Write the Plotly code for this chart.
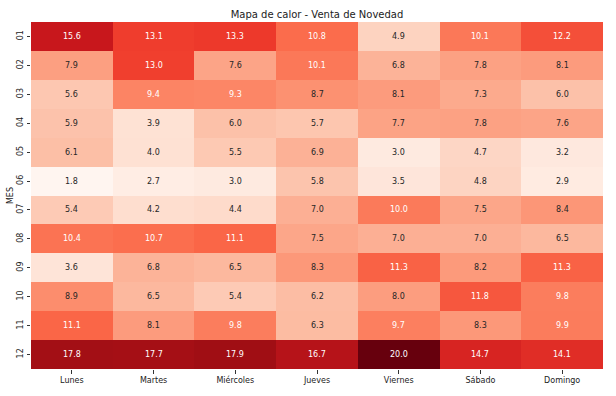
import plotly.graph_objects as go

dias = ["Lunes", "Martes", "Miércoles", "Jueves", "Viernes", "Sábado", "Domingo"]
meses = ["01", "02", "03", "04", "05", "06", "07", "08", "09", "10", "11", "12"]

lunes     = [15.6, 7.9, 5.6, 5.9, 6.1, 1.8, 5.4, 10.4, 3.6, 8.9, 11.1, 17.8]
martes    = [13.1, 13.0, 9.4, 3.9, 4.0, 2.7, 4.2, 10.7, 6.8, 6.5, 8.1, 17.7]
miercoles = [13.3, 7.6, 9.3, 6.0, 5.5, 3.0, 4.4, 11.1, 6.5, 5.4, 9.8, 17.9]
jueves    = [10.8, 10.1, 8.7, 5.7, 6.9, 5.8, 7.0, 7.5, 8.3, 6.2, 6.3, 16.7]
viernes   = [4.9, 6.8, 8.1, 7.7, 3.0, 3.5, 10.0, 7.0, 11.3, 8.0, 9.7, 20.0]
sabado    = [10.1, 7.8, 7.3, 7.8, 4.7, 4.8, 7.5, 7.0, 8.2, 11.8, 8.3, 14.7]
domingo   = [12.2, 8.1, 6.0, 7.6, 3.2, 2.9, 8.4, 6.5, 11.3, 9.8, 9.9, 14.1]

columnas = [lunes, martes, miercoles, jueves, viernes, sabado, domingo]
z = [[col[i] for col in columnas] for i in range(len(meses))]

reds = [(255, 245, 240), (254, 224, 210), (252, 187, 161), (252, 146, 114),
        (251, 106, 74), (239, 59, 44), (203, 24, 29), (165, 15, 21), (103, 0, 13)]
n = len(reds) - 1
colorscale = [[i / n, "rgb(%d,%d,%d)" % c] for i, c in enumerate(reds)]

zmin = min(min(r) for r in z)
zmax = max(max(r) for r in z)


def color_at(v):
    t = (v - zmin) / (zmax - zmin)
    t = max(0.0, min(1.0, t))
    pos = t * n
    i = min(int(pos), n - 1)
    f = pos - i
    a, b = reds[i], reds[i + 1]
    return tuple(a[k] + (b[k] - a[k]) * f for k in range(3))


def luminance(rgb):
    vals = []
    for c in rgb:
        c = c / 255.0
        vals.append(c / 12.92 if c <= 0.03928 else ((c + 0.055) / 1.055) ** 2.4)
    return 0.2126 * vals[0] + 0.7152 * vals[1] + 0.0722 * vals[2]


fig = go.Figure(go.Heatmap(
    z=z, x=dias, y=meses, colorscale=colorscale,
    zmin=zmin, zmax=zmax, showscale=False, hoverongaps=False,
))

annotations = []
for i, m in enumerate(meses):
    for j, d in enumerate(dias):
        v = z[i][j]
        col = "#262626" if luminance(color_at(v)) > 0.408 else "#ffffff"
        annotations.append(dict(
            x=j, y=i, text="%.1f" % v, showarrow=False,
            font=dict(family="DejaVu Sans", size=8, color=col),
        ))

fig.update_layout(
    width=616, height=396,
    margin=dict(l=31, r=13, t=22, b=27, autoexpand=False),
    paper_bgcolor="white", plot_bgcolor="white",
    font=dict(family="DejaVu Sans", size=8, color="#222222"),
    title=dict(text="Mapa de calor - Venta de Novedad", x=(31 + 603) / 2 / 616,
               xanchor="center", y=1 - 14 / 396, yanchor="middle",
               font=dict(size=10, color="#222222")),
    annotations=annotations,
)
fig.update_xaxes(type="category", ticks="outside", ticklen=3.5, tickcolor="#333",
                 showgrid=False, zeroline=False, showline=False, tickfont=dict(size=8),
                 automargin=False)
fig.update_yaxes(type="category", autorange="reversed", ticks="outside", ticklen=3.5,
                 tickcolor="#333", showgrid=False, zeroline=False, showline=False,
                 tickangle=-90, title=dict(text="MES", font=dict(size=8), standoff=1),
                 tickfont=dict(size=8), automargin=False)

fig.write_html("out.html",
               config={"displayModeBar": False},
               post_script="document.body.style.margin='0';document.body.style.overflow='hidden';")
